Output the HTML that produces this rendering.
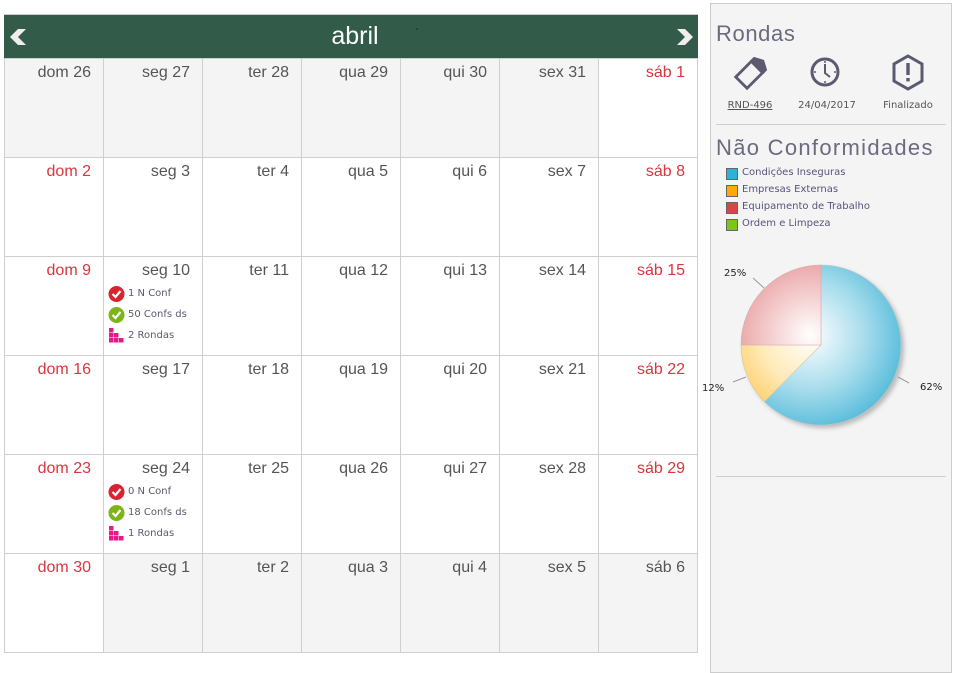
<!DOCTYPE html>
<html><head><meta charset="utf-8">
<style>
*{margin:0;padding:0;box-sizing:border-box}
body{width:957px;height:663px;background:#fff;position:relative;overflow:hidden;font-family:"Liberation Sans",sans-serif}
.hdr{position:absolute;left:4px;top:14px;width:694px;height:44px;background:#325b4a;border-top:1px solid #ccc}
.title{position:absolute;left:8px;top:21px;width:694px;text-align:center;color:#fff;font-size:25px;line-height:30px}
.c{position:absolute;width:100px;height:100px;border:1px solid #cfcfcf;background:#fff}
.g{background:#f4f4f4}
.d{position:absolute;right:12px;top:6px;font-size:16px;line-height:16px;color:#555;white-space:nowrap}
.r{color:#d9363e}
.it{position:absolute;left:4px;font-family:"DejaVu Sans",sans-serif;font-size:10px;color:#5a5a6e;line-height:16px;white-space:nowrap}
.it svg{position:absolute;left:0;top:0}
.it span{position:absolute;left:20px;top:0}
.panel{position:absolute;left:710px;top:3px;width:242px;height:670px;background:#f4f4f4;border:1px solid #ccc}
.ptitle{position:absolute;color:#6b6b80;font-size:22px;white-space:nowrap}
.lbl{position:absolute;font-family:"DejaVu Sans",sans-serif;font-size:10px;color:#555;white-space:nowrap;text-align:center}
.lg{position:absolute;left:726px;font-family:"DejaVu Sans",sans-serif;font-size:10px;color:#55557a;white-space:nowrap}
.lg i{position:absolute;left:0;top:0;width:12px;height:12px;border:1px solid #666}
.lg span{position:absolute;left:16px;top:-1px}
.sep{position:absolute;left:716px;width:230px;height:1px;background:#d0d0d0}
</style></head><body>

<div class="hdr"></div>
<div class="title">abril</div>
<svg style="position:absolute;left:0;top:14px" width="698" height="44">
 <polygon points="18,15 26,15 18,23 26,31 18,31 10,23" fill="#eee"/>
 <polygon points="677,15 685,15 693,23 685,31 677,31 685,23" fill="#eee"/>
 <circle cx="417" cy="15" r="0.6" fill="#111"/>
</svg>

<!-- Row 0 -->
<div class="c g" style="left:4px;top:58px"><div class="d">dom 26</div></div>
<div class="c g" style="left:103px;top:58px"><div class="d">seg 27</div></div>
<div class="c g" style="left:202px;top:58px"><div class="d">ter 28</div></div>
<div class="c g" style="left:301px;top:58px"><div class="d">qua 29</div></div>
<div class="c g" style="left:400px;top:58px"><div class="d">qui 30</div></div>
<div class="c g" style="left:499px;top:58px"><div class="d">sex 31</div></div>
<div class="c" style="left:598px;top:58px"><div class="d r">sáb 1</div></div>
<!-- Row 1 -->
<div class="c" style="left:4px;top:157px"><div class="d r">dom 2</div></div>
<div class="c" style="left:103px;top:157px"><div class="d">seg 3</div></div>
<div class="c" style="left:202px;top:157px"><div class="d">ter 4</div></div>
<div class="c" style="left:301px;top:157px"><div class="d">qua 5</div></div>
<div class="c" style="left:400px;top:157px"><div class="d">qui 6</div></div>
<div class="c" style="left:499px;top:157px"><div class="d">sex 7</div></div>
<div class="c" style="left:598px;top:157px"><div class="d r">sáb 8</div></div>
<!-- Row 2 -->
<div class="c" style="left:4px;top:256px"><div class="d r">dom 9</div></div>
<div class="c" style="left:103px;top:256px"><div class="d">seg 10</div>
 <div class="it" style="top:29px"><svg width="18" height="18"><circle cx="8.5" cy="8" r="8" fill="#d9232f"/><polyline points="4.5,8 7.5,11 12.5,5" fill="none" stroke="#fff" stroke-width="2.2"/></svg><span>1 N Conf</span></div>
 <div class="it" style="top:50px"><svg width="18" height="18"><circle cx="8.5" cy="8" r="8" fill="#7cb518"/><polyline points="4.5,8 7.5,11 12.5,5" fill="none" stroke="#fff" stroke-width="2.2"/></svg><span>50 Confs ds</span></div>
 <div class="it" style="top:71px"><svg width="18" height="18"><g fill="#e6198a"><rect x="1" y="0" width="4.5" height="4.5"/><rect x="1" y="5" width="4.5" height="4.5"/><rect x="6" y="5" width="4.5" height="4.5"/><rect x="1" y="10" width="4.5" height="4.5"/><rect x="6" y="10" width="4.5" height="4.5"/><rect x="11" y="10" width="4.5" height="4.5"/></g></svg><span>2 Rondas</span></div>
</div>
<div class="c" style="left:202px;top:256px"><div class="d">ter 11</div></div>
<div class="c" style="left:301px;top:256px"><div class="d">qua 12</div></div>
<div class="c" style="left:400px;top:256px"><div class="d">qui 13</div></div>
<div class="c" style="left:499px;top:256px"><div class="d">sex 14</div></div>
<div class="c" style="left:598px;top:256px"><div class="d r">sáb 15</div></div>
<!-- Row 3 -->
<div class="c" style="left:4px;top:355px"><div class="d r">dom 16</div></div>
<div class="c" style="left:103px;top:355px"><div class="d">seg 17</div></div>
<div class="c" style="left:202px;top:355px"><div class="d">ter 18</div></div>
<div class="c" style="left:301px;top:355px"><div class="d">qua 19</div></div>
<div class="c" style="left:400px;top:355px"><div class="d">qui 20</div></div>
<div class="c" style="left:499px;top:355px"><div class="d">sex 21</div></div>
<div class="c" style="left:598px;top:355px"><div class="d r">sáb 22</div></div>
<!-- Row 4 -->
<div class="c" style="left:4px;top:454px"><div class="d r">dom 23</div></div>
<div class="c" style="left:103px;top:454px"><div class="d">seg 24</div>
 <div class="it" style="top:29px"><svg width="18" height="18"><circle cx="8.5" cy="8" r="8" fill="#d9232f"/><polyline points="4.5,8 7.5,11 12.5,5" fill="none" stroke="#fff" stroke-width="2.2"/></svg><span>0 N Conf</span></div>
 <div class="it" style="top:50px"><svg width="18" height="18"><circle cx="8.5" cy="8" r="8" fill="#7cb518"/><polyline points="4.5,8 7.5,11 12.5,5" fill="none" stroke="#fff" stroke-width="2.2"/></svg><span>18 Confs ds</span></div>
 <div class="it" style="top:71px"><svg width="18" height="18"><g fill="#e6198a"><rect x="1" y="0" width="4.5" height="4.5"/><rect x="1" y="5" width="4.5" height="4.5"/><rect x="6" y="5" width="4.5" height="4.5"/><rect x="1" y="10" width="4.5" height="4.5"/><rect x="6" y="10" width="4.5" height="4.5"/><rect x="11" y="10" width="4.5" height="4.5"/></g></svg><span>1 Rondas</span></div>
</div>
<div class="c" style="left:202px;top:454px"><div class="d">ter 25</div></div>
<div class="c" style="left:301px;top:454px"><div class="d">qua 26</div></div>
<div class="c" style="left:400px;top:454px"><div class="d">qui 27</div></div>
<div class="c" style="left:499px;top:454px"><div class="d">sex 28</div></div>
<div class="c" style="left:598px;top:454px"><div class="d r">sáb 29</div></div>
<!-- Row 5 -->
<div class="c" style="left:4px;top:553px"><div class="d r">dom 30</div></div>
<div class="c g" style="left:103px;top:553px"><div class="d">seg 1</div></div>
<div class="c g" style="left:202px;top:553px"><div class="d">ter 2</div></div>
<div class="c g" style="left:301px;top:553px"><div class="d">qua 3</div></div>
<div class="c g" style="left:400px;top:553px"><div class="d">qui 4</div></div>
<div class="c g" style="left:499px;top:553px"><div class="d">sex 5</div></div>
<div class="c g" style="left:598px;top:553px"><div class="d">sáb 6</div></div>

<!-- Right panel -->
<div class="panel"></div>
<div class="ptitle" style="left:716px;top:20px;letter-spacing:0.6px;line-height:28px">Rondas</div>

<svg style="position:absolute;left:710px;top:45px" width="242" height="55">
 <!-- tag -->
 <g transform="translate(42,27) rotate(-45)">
  <rect x="-15" y="-8" width="22" height="16" fill="none" stroke="#5a5a70" stroke-width="2.8"/>
  <polygon points="7,-9.4 12,-9.4 17,0 12,9.4 7,9.4" fill="#5a5a70"/>
 </g>
 <!-- clock -->
 <circle cx="115" cy="27" r="13" fill="none" stroke="#5a5a70" stroke-width="3"/>
 <polyline points="115,19 115,28 120,32" fill="none" stroke="#5a5a70" stroke-width="2"/>
 <circle cx="115" cy="17" r="1" fill="#5a5a70"/><circle cx="115" cy="37" r="1" fill="#5a5a70"/>
 <circle cx="105" cy="27" r="1" fill="#5a5a70"/><circle cx="125" cy="27" r="1" fill="#5a5a70"/>
 <!-- hexagon -->
 <polygon points="198,11 212,19 212,36 198,44 184,36 184,19" fill="none" stroke="#5a5a70" stroke-width="3"/>
 <rect x="196.3" y="18" width="3.4" height="12" fill="#5a5a70"/>
 <rect x="196.3" y="33" width="3.4" height="3.4" fill="#5a5a70"/>
</svg>
<div class="lbl" style="left:710px;width:80px;top:100px;text-decoration:underline">RND-496</div>
<div class="lbl" style="left:787px;width:80px;top:100px">24/04/2017</div>
<div class="lbl" style="left:868px;width:80px;top:100px">Finalizado</div>

<div class="sep" style="top:124px"></div>
<div class="ptitle" style="left:716px;top:134px;letter-spacing:1.3px;line-height:28px">Não Conformidades</div>

<div class="lg" style="top:168px"><i style="background:#2ab4da"></i><span>Condições Inseguras</span></div>
<div class="lg" style="top:185px"><i style="background:#ffaa00"></i><span>Empresas Externas</span></div>
<div class="lg" style="top:202px"><i style="background:#d94646"></i><span>Equipamento de Trabalho</span></div>
<div class="lg" style="top:219px"><i style="background:#7ac51e"></i><span>Ordem e Limpeza</span></div>

<svg style="position:absolute;left:0;top:0" width="957" height="663">
 <defs>
  <radialGradient id="gb" gradientUnits="userSpaceOnUse" cx="810" cy="335" r="100">
   <stop offset="0" stop-color="#ffffff"/><stop offset="0.55" stop-color="#a6dcec"/><stop offset="1" stop-color="#4fb9d9"/>
  </radialGradient>
  <radialGradient id="gy" gradientUnits="userSpaceOnUse" cx="810" cy="335" r="100">
   <stop offset="0" stop-color="#ffffff"/><stop offset="0.5" stop-color="#ffeab8"/><stop offset="1" stop-color="#fec34a"/>
  </radialGradient>
  <radialGradient id="gr" gradientUnits="userSpaceOnUse" cx="810" cy="335" r="100">
   <stop offset="0" stop-color="#ffffff"/><stop offset="0.55" stop-color="#f0bcbd"/><stop offset="1" stop-color="#e28486"/>
  </radialGradient>
  <filter id="sh" x="-20%" y="-20%" width="140%" height="140%"><feGaussianBlur stdDeviation="2.5"/></filter>
 </defs>
 <circle cx="824" cy="348" r="80" fill="#888" opacity="0.55" filter="url(#sh)"/>
 <path d="M821,345 L821,265 A80,80 0 1 1 764.4,401.6 Z" fill="url(#gb)" stroke="#b8c8cc" stroke-width="0.6"/>
 <path d="M821,345 L764.4,401.6 A80,80 0 0 1 741,345 Z" fill="url(#gy)" stroke="#d8c8a8" stroke-width="0.6"/>
 <path d="M821,345 L741,345 A80,80 0 0 1 821,265 Z" fill="url(#gr)" stroke="#ccb0b0" stroke-width="0.6"/>
 <g stroke="#999" stroke-width="1">
  <line x1="753" y1="278" x2="764" y2="288"/>
  <line x1="898" y1="377" x2="909" y2="383"/>
  <line x1="733" y1="382" x2="746" y2="377"/>
 </g>
 <g font-family="DejaVu Sans, sans-serif" font-size="10" fill="#222">
  <text x="724" y="276">25%</text>
  <text x="920" y="390">62%</text>
  <text x="702" y="391">12%</text>
 </g>
</svg>

<div class="sep" style="top:476px"></div>

</body></html>
